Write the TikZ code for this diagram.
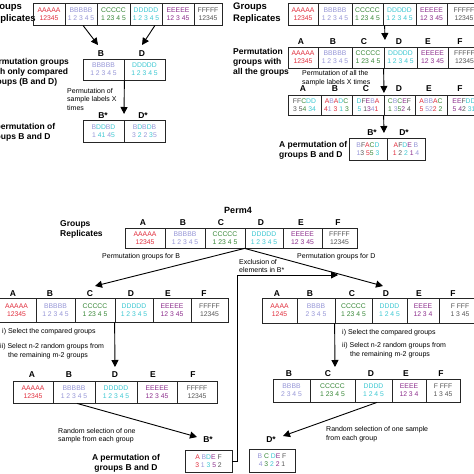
\documentclass[tikz,border=0pt]{standalone}
\usepackage{fontspec}
\setmainfont{Liberation Sans}
\usetikzlibrary{arrows.meta}
\definecolor{cA}{RGB}{225,45,60}
\definecolor{cB}{RGB}{150,150,215}
\definecolor{cC}{RGB}{55,135,55}
\definecolor{cD}{RGB}{60,200,210}
\definecolor{cE}{RGB}{140,45,140}
\definecolor{cF}{RGB}{85,85,85}
\newcommand\ka[1]{\textcolor{cA}{#1}}
\newcommand\kb[1]{\textcolor{cB}{#1}}
\newcommand\kc[1]{\textcolor{cC}{#1}}
\newcommand\kd[1]{\textcolor{cD}{#1}}
\newcommand\ke[1]{\textcolor{cE}{#1}}
\newcommand\kf[1]{\textcolor{cF}{#1}}
% name, x1, x2, y1, y2, letters, numbers, colour
\newcommand\cellat[8]{\node[cellbox,text=#8,minimum width={(#3)*1pt-(#2)*1pt},minimum height={(#5)*1pt-(#4)*1pt}] (#1) at ({(#2+#3)/2},{(#4+#5)/2}) {#6\\#7};}
\newcommand\glab[4]{\node[glabel] (#1) at (#2,#3) {#4};}
\tikzset{
  cellbox/.style={draw=black!85, line width=0.8pt, inner sep=0pt, align=center, font=\fontsize{6.8}{8}\selectfont},
  glabel/.style={font=\bfseries\fontsize{8.5}{10}\selectfont, inner sep=0pt},
  biglab/.style={font=\bfseries\fontsize{8.5}{10}\selectfont, align=left, inner sep=0pt, anchor=west},
  grplab/.style={font=\bfseries\fontsize{9.5}{12}\selectfont, align=left, inner sep=0pt, anchor=west},
  note/.style={font=\fontsize{7}{8.5}\selectfont, align=left, inner sep=0pt, anchor=west},
  arr/.style={-{Triangle[length=7pt,width=7pt]}, line width=0.9pt},
}
\begin{document}
\begin{tikzpicture}[x=1pt,y=-1pt]
\fill[white] (0,0) rectangle (474,474);
\useasboundingbox (0,0) rectangle (474,474);

% ---------------- top-left panel ----------------
\node[grplab] (tlg) at (-12,13) {Groups\\Replicates};
\cellat{tl1A}{33}{65}{3}{25}{AAAAA}{12345}{cA}
\cellat{tl1B}{65}{97}{3}{25}{BBBBB}{1 2 3 4 5}{cB}
\cellat{tl1C}{97}{130}{3}{25}{CCCCC}{1 23 4 5}{cC}
\cellat{tl1D}{130}{162}{3}{25}{DDDDD}{1 2 3 4 5}{cD}
\cellat{tl1E}{162}{194}{3}{25}{EEEEE}{12 3 45}{cE}
\cellat{tl1F}{194}{222}{3}{25}{FFFFF}{12345}{cF}
\coordinate (tltipL) at (98,45);
\coordinate (tltipR) at (142,45);
\draw[arr] ([xshift=2pt]tl1B.south) -- (tltipL);
\draw[arr] ([xshift=9pt]tl1D.south) -- (tltipR);
\node[biglab] (tlp) at (-12,72) {Permutation groups\\with only compared\\groups (B and D)};
\glab{tllB}{101}{54}{B}
\glab{tllD}{142}{54}{D}
\cellat{tlB}{83}{124}{59}{80}{BBBBB}{1 2 3 4 5}{cB}
\cellat{tlD}{124}{165}{59}{80}{DDDDD}{1 2 3 4 5}{cD}
\node[note] (tln) at (67,99) {Permutation of\\sample labels X\\times};
\coordinate (tltipM) at (124,114);
\draw[arr] (tlB.south east) -- (tltipM);
\glab{tllBs}{103}{116}{B*}
\glab{tllDs}{143}{116}{D*}
\cellat{tlBs}{83}{124}{120}{142}{\kb{B}\kd{D}\kd{D}\kb{B}\kd{D}}{\kb{1} \kd{4}\kd{1} \kb{4}\kd{5}}{black}
\cellat{tlDs}{124}{165}{120}{142}{\kb{B}\kd{D}\kb{B}\kd{D}\kb{B}}{\kb{3} \kd{2} \kb{2} \kd{3}\kb{5}}{black}
\node[biglab] (tlr) at (-13,132) {A permutation of\\groups B and D};

% ---------------- top-right panel ----------------
\node[grplab] (trg) at (233,13) {Groups\\Replicates};
\cellat{tr1A}{288}{318}{3}{25}{AAAAA}{12345}{cA}
\cellat{tr1B}{318}{352}{3}{25}{BBBBB}{1 2 3 4 5}{cB}
\cellat{tr1C}{352}{383}{3}{25}{CCCCC}{1 23 4 5}{cC}
\cellat{tr1D}{383}{416}{3}{25}{DDDDD}{1 2 3 4 5}{cD}
\cellat{tr1E}{416}{447}{3}{25}{EEEEE}{12 3 45}{cE}
\cellat{tr1F}{447}{481}{3}{25}{FFFFF}{12345}{cF}
\coordinate (trtip1) at (385,40);
\draw[arr] ([xshift=2pt]tr1D.south west) -- (trtip1);
\node[biglab] (trp) at (233,62) {Permutation\\groups with\\all the groups};
\glab{tr2lA}{301}{42}{A}
\glab{tr2lB}{333}{42}{B}
\glab{tr2lC}{364}{42}{C}
\glab{tr2lD}{399}{42}{D}
\glab{tr2lE}{428}{42}{E}
\glab{tr2lF}{460}{42}{F}
\cellat{tr2A}{288}{318}{47}{68}{AAAAA}{12345}{cA}
\cellat{tr2B}{318}{352}{47}{68}{BBBBB}{1 2 3 4 5}{cB}
\cellat{tr2C}{352}{384}{47}{68}{CCCCC}{1 23 4 5}{cC}
\cellat{tr2D}{384}{417}{47}{68}{DDDDD}{1 2 3 4 5}{cD}
\cellat{tr2E}{417}{448}{47}{68}{EEEEE}{12 3 45}{cE}
\cellat{tr2F}{448}{481}{47}{68}{FFFFF}{12345}{cF}
\node[note] (trn) at (302,78) {Permutation of all the\\sample labels X times};
\coordinate (trtip2) at (384,93);
\draw[arr] (tr2D.south west) -- (trtip2);
\glab{tr3lA}{303}{89}{A}
\glab{tr3lB}{335}{89}{B}
\glab{tr3lC}{366}{89}{C}
\glab{tr3lD}{399}{89}{D}
\glab{tr3lE}{429}{89}{E}
\glab{tr3lF}{460}{89}{F}
\cellat{tr3A}{288}{321}{95}{115}{\kf{F}\kf{F}\kc{C}\kd{D}\kd{D}}{\kf{3} \kf{5}\kc{4} \kd{3}\kd{4}}{black}
\cellat{tr3B}{321}{352}{95}{115}{\ka{A}\kb{B}\ka{A}\kd{D}\kc{C}}{\ka{4}\kb{1} \ka{3} \kd{1} \kc{3}}{black}
\cellat{tr3C}{352}{384}{95}{115}{\kd{D}\kf{F}\ke{E}\kb{B}\ka{A}}{\kd{5} \kf{1}\ke{3}\kb{4}\ka{1}}{black}
\cellat{tr3D}{384}{415}{95}{115}{\kc{C}\kb{B}\kc{C}\ke{E}\kf{F}}{\kc{1} \kb{3}\kc{5}\ke{2} \kf{4}}{black}
\cellat{tr3E}{415}{447}{95}{115}{\ka{A}\kb{B}\kb{B}\ka{A}\kc{C}}{\ka{5} \kb{5}\kb{2}\ka{2} \kc{2}}{black}
\cellat{tr3F}{447}{481}{95}{115}{\ke{E}\ke{E}\kf{F}\kd{D}\kd{D}}{\ke{5} \ke{4}\kf{2} \kd{3}\kd{1}}{black}
\coordinate (trtip3) at (384,133);
\draw[arr] (tr3D.south west) -- (trtip3);
\glab{trlBs}{372}{133}{B*}
\glab{trlDs}{404}{133}{D*}
\cellat{trBs}{349}{387}{138}{160}{\kb{B}\kf{F}\ka{A}\kc{C}\kd{D}}{\kb{1}\kf{3} \ka{5}\kc{5} \kd{3}}{black}
\cellat{trDs}{387}{425}{138}{160}{\ka{A}\kf{F}\kd{D}\ke{E} \kb{B}}{\ka{1} \kf{2} \kd{2} \ke{1} \kb{4}}{black}
\node[biglab] (trr) at (279,150) {A permutation of\\groups B and D};

% ---------------- bottom panel: Perm4 ----------------
\node[font=\bfseries\fontsize{9}{11}\selectfont, inner sep=0pt] (perm) at (238,210) {Perm4};
\node[biglab] (bg) at (60,229) {Groups\\Replicates};
\glab{plA}{143}{223}{A}
\glab{plB}{183}{223}{B}
\glab{plC}{221}{223}{C}
\glab{plD}{261}{223}{D}
\glab{plE}{301}{223}{E}
\glab{plF}{338}{223}{F}
\cellat{pA}{125}{165}{228}{248}{AAAAA}{12345}{cA}
\cellat{pB}{165}{205}{228}{248}{BBBBB}{1 2 3 4 5}{cB}
\cellat{pC}{205}{245}{228}{248}{CCCCC}{1 23 4 5}{cC}
\cellat{pD}{245}{283}{228}{248}{DDDDD}{1 2 3 4 5}{cD}
\cellat{pE}{283}{322}{228}{248}{EEEEE}{12 3 45}{cE}
\cellat{pF}{322}{357}{228}{248}{FFFFF}{12345}{cF}
\coordinate (ptipL) at (95,286);
\coordinate (ptipR) at (383,286);
\draw[arr] (pD.south west) -- (ptipL);
\draw[arr] (pD.south west) -- (ptipR);
\node[note] (bn1) at (102,257) {Permutation groups for B};
\node[note] (bn2) at (297,257) {Permutation groups for D};
\node[note] (bex) at (239,266) {Exclusion of\\elements in B*};

% left branch
\glab{l1lA}{13}{294}{A}
\glab{l1lB}{50}{294}{B}
\glab{l1lC}{90}{294}{C}
\glab{l1lD}{131}{294}{D}
\glab{l1lE}{168}{294}{E}
\glab{l1lF}{204}{294}{F}
\cellat{l1A}{-3}{36}{298}{322}{AAAAA}{12345}{cA}
\cellat{l1B}{36}{75}{298}{322}{BBBBB}{1 2 3 4 5}{cB}
\cellat{l1C}{75}{115}{298}{322}{CCCCC}{1 23 4 5}{cC}
\cellat{l1D}{115}{153}{298}{322}{DDDDD}{1 2 3 4 5}{cD}
\cellat{l1E}{153}{191}{298}{322}{EEEEE}{12 3 45}{cE}
\cellat{l1F}{191}{228}{298}{322}{FFFFF}{12345}{cF}
\node[note] (ls1) at (2,332) {i) Select the compared groups};
\node[note] (ls2) at (0,351) {ii) Select n-2 random groups from\\\hspace*{8pt}the remaining m-2 groups};
\coordinate (l1tip) at (115,367);
\draw[arr] (l1D.south west) -- (l1tip);
\glab{l2lA}{32}{375}{A}
\glab{l2lB}{69}{375}{B}
\glab{l2lD}{115}{375}{D}
\glab{l2lE}{153}{375}{E}
\glab{l2lF}{193}{375}{F}
\cellat{l2A}{13}{53}{381}{403}{AAAAA}{12345}{cA}
\cellat{l2B}{53}{95}{381}{403}{BBBBB}{1 2 3 4 5}{cB}
\cellat{l2D}{95}{137}{381}{403}{DDDDD}{1 2 3 4 5}{cD}
\cellat{l2E}{137}{177}{381}{403}{EEEEE}{12 3 45}{cE}
\cellat{l2F}{177}{217}{381}{403}{FFFFF}{12345}{cF}
\coordinate (l2tip) at (197,437);
\draw[arr] ([xshift=3pt]l2B.south) -- (l2tip);
\node[note] (lrand) at (58,435.5) {Random selection of one\\sample from each group};
\node[biglab, align=center, anchor=center] (lperm) at (126,463) {A permutation of\\groups B and D};
\glab{llBs}{208}{440}{B*}
\cellat{lBs}{185}{232}{450}{472}{\ka{A} \kb{B}\kd{D}\ke{E} \kf{F}}{\ka{3} \kb{1} \kd{3} \ke{5} \kf{2}}{black}
\coordinate (extip) at (338,275);
\draw[arr] (lBs.east) -- ++(5,0) |- (extip);

% right branch
\glab{r1lA}{277}{294}{A}
\glab{r1lB}{310}{294}{B}
\glab{r1lC}{352}{294}{C}
\glab{r1lD}{386}{294}{D}
\glab{r1lE}{419}{294}{E}
\glab{r1lF}{453}{294}{F}
\cellat{r1A}{262}{297}{298}{323}{AAAA}{1245}{cA}
\cellat{r1B}{297}{335}{298}{323}{BBBB}{2 3 4 5}{cB}
\cellat{r1C}{335}{372}{298}{323}{CCCCC}{1 23 4 5}{cC}
\cellat{r1D}{372}{407}{298}{323}{DDDD}{1 2 4 5}{cD}
\cellat{r1E}{407}{439}{298}{323}{EEEE}{12 3 4}{cE}
\cellat{r1F}{439}{481}{298}{323}{F FFF}{1 3 45}{cF}
\node[note] (rs1) at (342,333) {i) Select the compared groups};
\node[note] (rs2) at (342,350) {ii) Select n-2 random groups from\\\hspace*{8pt}the remaining m-2 groups};
\coordinate (r1tip) at (335,367);
\draw[arr] (r1C.south west) -- (r1tip);
\glab{r2lB}{289}{374}{B}
\glab{r2lC}{328}{374}{C}
\glab{r2lD}{371}{374}{D}
\glab{r2lE}{406}{374}{E}
\glab{r2lF}{441}{374}{F}
\cellat{r2B}{273}{310}{379}{402}{BBBB}{2 3 4 5}{cB}
\cellat{r2C}{310}{355}{379}{402}{CCCCC}{1 23 4 5}{cC}
\cellat{r2D}{355}{392}{379}{402}{DDDD}{1 2 4 5}{cD}
\cellat{r2E}{392}{426}{379}{402}{EEEE}{12 3 4}{cE}
\cellat{r2F}{426}{460}{379}{402}{F FFF}{1 3 45}{cF}
\coordinate (r2tip) at (283,436);
\draw[arr] ([xshift=3.5pt]r2D.south) -- (r2tip);
\node[note] (rrand) at (326,434) {Random selection of one sample\\from each group};
\glab{rlDs}{271}{440}{D*}
\cellat{rDs}{249}{295}{449}{472}{\kb{B} \kc{C} \kd{D}\ke{E} \kf{F}}{\kb{4} \kc{3} \kd{2} \ke{2} \kf{1}}{black}
\end{tikzpicture}
\end{document}
